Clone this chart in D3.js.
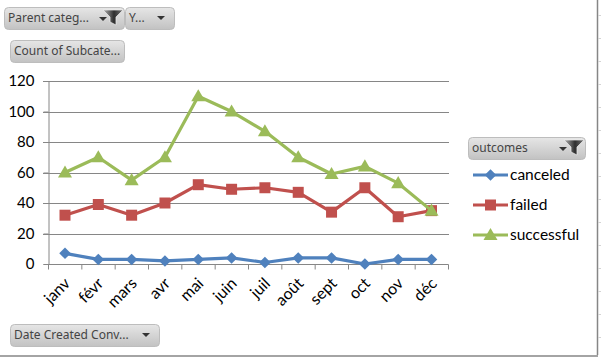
<!DOCTYPE html>
<html>
<head>
<meta charset="utf-8">
<script src="https://cdn.jsdelivr.net/npm/d3@7"></script>
<style>
  html, body { margin: 0; padding: 0; background: #fff; overflow: hidden; }
</style>
</head>
<body>
<div id="chart"></div>
<script>
var months = ["janv", "févr", "mars", "avr", "mai", "juin", "juil", "août", "sept", "oct", "nov", "déc"];
var canceled = [7, 3, 3, 2, 3, 4, 1, 4, 4, 0, 3, 3];
var failed = [32, 39, 32, 40, 52, 49, 50, 47, 34, 50, 31, 35];
var successful = [60, 70, 55, 70, 110, 100, 87, 70, 59, 64, 53, 35];
var yTicks = [0, 20, 40, 60, 80, 100, 120];

var width = 601,
    height = 357;

var svg = d3.select("#chart")
    .append("svg")
    .attr("width", width)
    .attr("height", height)
    .style("display", "block");

var defs = svg.append("defs");
var grad = defs.append("linearGradient")
    .attr("id", "btn")
    .attr("x1", 0).attr("y1", 0).attr("x2", 0).attr("y2", 1);
grad.append("stop").attr("offset", "0%").attr("stop-color", "#e6e6e6");
grad.append("stop").attr("offset", "100%").attr("stop-color", "#c2c2c2");

var funnelGrad = defs.append("linearGradient")
    .attr("id", "funnel")
    .attr("x1", 0).attr("y1", 0).attr("x2", 1).attr("y2", 0);
funnelGrad.append("stop").attr("offset", "0%").attr("stop-color", "#b5b5b5");
funnelGrad.append("stop").attr("offset", "55%").attr("stop-color", "#2e2e2e");
funnelGrad.append("stop").attr("offset", "100%").attr("stop-color", "#777");

var x = d3.scalePoint().domain(months).range([65, 431.5]);
var y = d3.scaleLinear().domain([0, 120]).range([264, 81]);
var chartFont = "Lato, 'Open Sans', sans-serif";
var btnFont = "'Noto Sans', 'DejaVu Sans', sans-serif";

// gridlines
svg.append("g").selectAll("line")
    .data(yTicks.slice(1))
    .enter()
    .append("line")
    .attr("x1", 43)
    .attr("x2", 449)
    .attr("y1", function(d) { return Math.round(y(d)) + 0.5; })
    .attr("y2", function(d) { return Math.round(y(d)) + 0.5; })
    .style("stroke", "#868686");

// axes
var axisY = svg.append("g")
    .attr("transform", "translate(48.5,0)")
    .call(d3.axisLeft(y).tickValues(yTicks).tickSize(5).tickPadding(9));
var xBand = d3.scaleBand().domain(months).range([48.5, 448.5]);
var axisX = svg.append("g")
    .attr("transform", "translate(0,264.5)")
    .call(d3.axisBottom(xBand).tickSize(0).tickPadding(12));

axisY.selectAll("path, line").style("stroke", "#868686");
axisX.selectAll("path").attr("d", "M48.5,5V0H448.5V5").style("stroke", "#868686").style("fill", "none");
axisY.selectAll("text")
    .style("font-family", chartFont)
    .style("font-size", "15px")
    .style("fill", "#000");
axisX.selectAll("text")
    .style("font-family", chartFont)
    .style("font-size", "16px")
    .style("fill", "#000")
    .attr("text-anchor", "end")
    .attr("dy", "0.35em")
    .attr("x", 0)
    .attr("y", 0)
    .attr("transform", "translate(2,16) rotate(-45)");

// tick marks between categories
svg.append("g").selectAll("line")
    .data(months.slice(1))
    .enter()
    .append("line")
    .attr("x1", function(d) { return xBand(d); })
    .attr("x2", function(d) { return xBand(d); })
    .attr("y1", 264.5)
    .attr("y2", 269.5)
    .style("stroke", "#868686");

var seriesList = [
    { name: "canceled", values: canceled, color: "#4f81bd", shape: d3.symbolDiamond2, size: 85, dy: 0 },
    { name: "failed", values: failed, color: "#c0504d", shape: d3.symbolSquare, size: 121, dy: 0 },
    { name: "successful", values: successful, color: "#9bbb59", shape: d3.symbolTriangle, size: 85, dy: 1 }
];

var line = d3.line()
    .x(function(d, i) { return x(months[i]); })
    .y(function(d) { return y(d); });

seriesList.forEach(function(s) {
    var g = svg.append("g");
    g.append("path")
        .attr("d", line(s.values))
        .style("fill", "none")
        .style("stroke", s.color)
        .style("stroke-width", 3.2)
        .style("stroke-linejoin", "round");
    g.selectAll("path.mark")
        .data(s.values)
        .enter()
        .append("path")
        .attr("class", "mark")
        .attr("d", d3.symbol().type(s.shape).size(s.size))
        .attr("transform", function(d, i) {
            return "translate(" + x(months[i]) + "," + (y(d) + s.dy) + ")";
        })
        .style("fill", s.color);
});

// field buttons
function arrow(parent, cx, cy) {
    parent.append("path")
        .attr("d", "M" + (cx - 4) + "," + (cy - 2) + "h8l-4,4z")
        .style("fill", "#333");
}

function funnel(parent, cx, cy) {
    parent.append("path")
        .attr("d", "M" + (cx - 10) + "," + (cy - 7) + "h20l-7,7v8l-6,-3v-5z")
        .style("fill", "url(#funnel)")
        .style("stroke", "#eee")
        .style("stroke-width", 0.7);
}

function button(bx, by, w, h, label) {
    var b = svg.append("g");
    b.append("rect")
        .attr("x", bx + 0.5).attr("y", by + 0.5)
        .attr("width", w).attr("height", h)
        .attr("rx", 4)
        .style("fill", "url(#btn)")
        .style("stroke", "#bdbdbd");
    b.append("text")
        .attr("x", bx + 4).attr("y", by + h / 2 + 4)
        .text(label)
        .style("font-family", btnFont)
        .style("font-size", "12px")
        .style("fill", "#444");
    return b;
}

var b1 = button(4, 7, 120, 22, "Parent categ...");
arrow(b1, 103, 19);
funnel(b1, 113, 17);
var b2 = button(125, 7, 49, 22, "Y...");
arrow(b2, 161, 18);
button(10, 40, 114, 22, "Count of Subcate...");
var b3 = button(10, 324, 149, 22, "Date Created Conv...");
arrow(b3, 146, 335);
var b4 = button(468, 137, 117, 22, "outcomes");
arrow(b4, 563, 149);
funnel(b4, 574, 147);

// legend
var legendY = d3.scalePoint().domain(seriesList.map(function(s) { return s.name; })).range([175, 235]);
seriesList.forEach(function(s) {
    var cy = legendY(s.name);
    var g = svg.append("g");
    g.append("line")
        .attr("x1", 473).attr("x2", 508)
        .attr("y1", cy).attr("y2", cy)
        .style("stroke", s.color)
        .style("stroke-width", 3);
    g.append("path")
        .attr("d", d3.symbol().type(s.shape).size(s.size))
        .attr("transform", "translate(490.5," + (cy + s.dy) + ")")
        .style("fill", s.color);
    g.append("text")
        .attr("x", 510).attr("y", cy + 5)
        .text(s.name)
        .style("font-family", chartFont)
        .style("font-size", "15.5px")
        .style("fill", "#000");
});

// frame of the worksheet window
svg.append("line").attr("x1", 597.5).attr("x2", 597.5).attr("y1", 0).attr("y2", 355)
    .style("stroke", "#868686").style("stroke-width", 1.5);
svg.append("line").attr("x1", 0).attr("x2", 598).attr("y1", 356).attr("y2", 356)
    .style("stroke", "#868686").style("stroke-width", 1.5);
svg.append("g").selectAll("line")
    .data(d3.range(15, 340, 23))
    .enter()
    .append("line")
    .attr("x1", 598).attr("x2", 601)
    .attr("y1", function(d) { return d + 0.5; })
    .attr("y2", function(d) { return d + 0.5; })
    .style("stroke", "#d4d4d4");
</script>
</body>
</html>
